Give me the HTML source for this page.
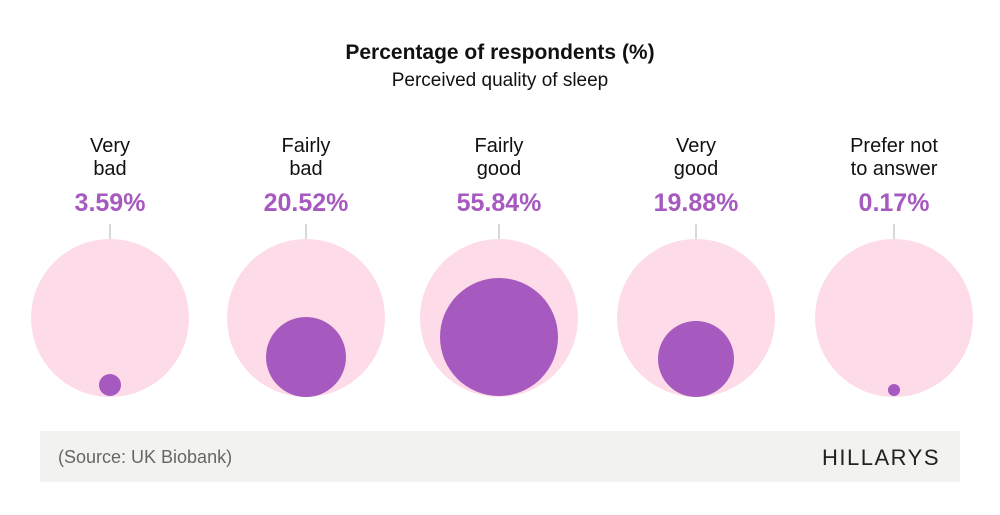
<!DOCTYPE html>
<html><head><meta charset="utf-8"><style>
body{margin:0;width:1000px;height:510px;background:#fff;overflow:hidden;font-family:"Liberation Sans",sans-serif}
</style></head><body>
<svg width="1000" height="510" xmlns="http://www.w3.org/2000/svg" font-family="Liberation Sans, sans-serif">
<text x="500" y="59" text-anchor="middle" font-size="21" font-weight="bold" fill="#111">Percentage of respondents (%)</text>
<text x="500" y="86" text-anchor="middle" font-size="19" fill="#111">Perceived quality of sleep</text>
<g font-size="20" fill="#111" text-anchor="middle">
<text x="110" y="152">Very</text><text x="110" y="175">bad</text>
<text x="306" y="152">Fairly</text><text x="306" y="175">bad</text>
<text x="499" y="152">Fairly</text><text x="499" y="175">good</text>
<text x="696" y="152">Very</text><text x="696" y="175">good</text>
<text x="894" y="152">Prefer not</text><text x="894" y="175">to answer</text>
</g>
<g font-size="25" font-weight="bold" fill="#a659be" text-anchor="middle">
<text x="110" y="211">3.59%</text><text x="306" y="211">20.52%</text><text x="499" y="211">55.84%</text><text x="696" y="211">19.88%</text><text x="894" y="211">0.17%</text>
</g>
<g stroke="#ccc" stroke-width="1.5">
<line x1="110" y1="224" x2="110" y2="239"/><line x1="306" y1="224" x2="306" y2="239"/><line x1="499" y1="224" x2="499" y2="239"/><line x1="696" y1="224" x2="696" y2="239"/><line x1="894" y1="224" x2="894" y2="239"/>
</g>
<g fill="#fddbe9">
<circle cx="110" cy="318" r="79"/><circle cx="306" cy="318" r="79"/><circle cx="499" cy="318" r="79"/><circle cx="696" cy="318" r="79"/><circle cx="894" cy="318" r="79"/>
</g>
<g fill="#a659be">
<circle cx="110" cy="385" r="11"/><circle cx="306" cy="357" r="40"/><circle cx="499" cy="337" r="59"/><circle cx="696" cy="359" r="38"/><circle cx="894" cy="390" r="6"/>
</g>
<rect x="40" y="431" width="920" height="51" fill="#f2f2f0"/>
<text x="58" y="463" font-size="18" fill="#666">(Source: UK Biobank)</text>
<text x="940" y="465" text-anchor="end" font-size="22" fill="#222" letter-spacing="1.5">HILLARYS</text>
</svg>
</body></html>
